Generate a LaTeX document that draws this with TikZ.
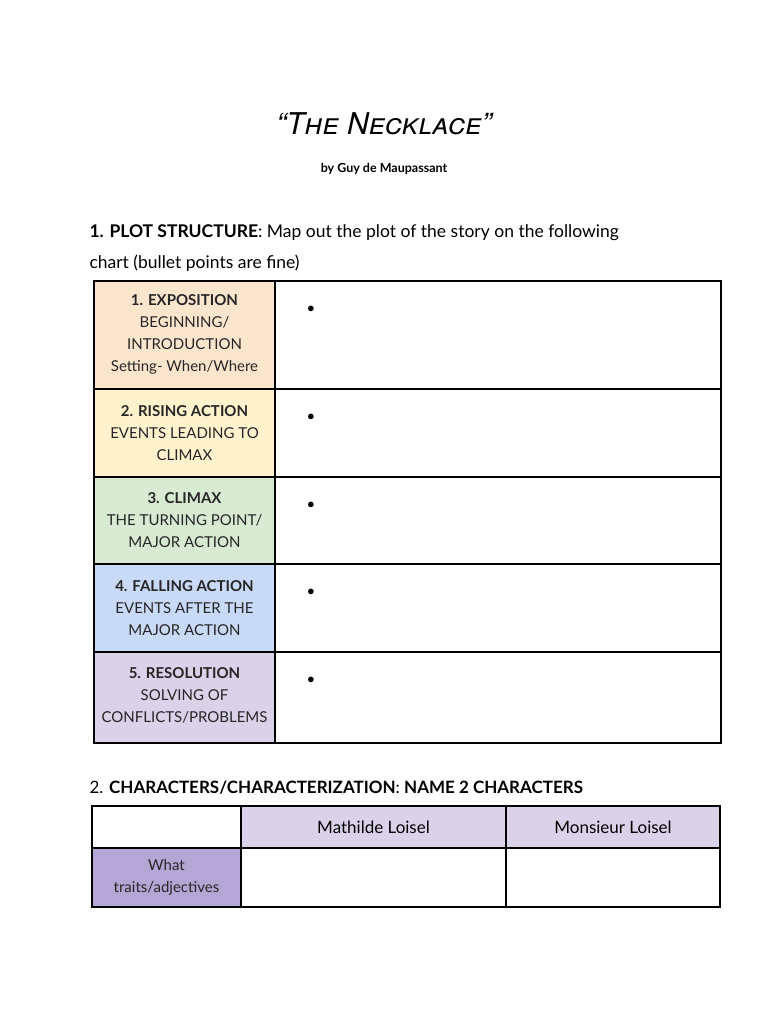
\documentclass[tikz,border=0pt]{standalone}
\usepackage{fontspec}
\setmainfont{Lato}
\newfontfamily\titlefont{TeX Gyre Heros}
\definecolor{cexp}{HTML}{FCE5CD}
\definecolor{crise}{HTML}{FFF2CC}
\definecolor{cclim}{HTML}{D9EAD3}
\definecolor{cfall}{HTML}{C9DAF8}
\definecolor{cres}{HTML}{D9D2E9}
\definecolor{chead}{HTML}{D9D2E9}
\definecolor{cwhat}{HTML}{B4A7D6}
\begin{document}
\begin{tikzpicture}[x=1pt,y=-1pt,
 cell/.style={draw=black,line width=1.3pt},
 lbl/.style={align=center,font=\fontsize{15}{22}\selectfont,text=black!85},
 bul/.style={font=\Large}]
\useasboundingbox[fill=white] (0,0) rectangle (768,1024);
\node (title) at (384,124) {\titlefont\fontsize{30}{34}\selectfont\itshape “T\textsc{he} N\textsc{ecklace}”};
\node (by) at (384,169) {\fontsize{12.5}{15}\selectfont\bfseries by Guy de Maupassant};
\node[anchor=west,align=left,font=\fontsize{17.5}{31}\selectfont] (q1) at (86,248) {\textbf{1. PLOT STRUCTURE}: Map out the plot of the story on the following\\chart (bullet points are fine)};
% table 1
\foreach \ya/\yb/\c [count=\i] in {281/389/cexp,389/477/crise,477/564/cclim,564/652/cfall,652/743/cres}{
 \filldraw[cell,fill=\c] (94,\ya) rectangle (275,\yb);
 \draw[cell] (275,\ya) rectangle (721,\yb);
 \node[bul] (b\i) at (311,\ya+28) {$\bullet$};
}
\node[lbl] (e1) at (184.5,334) {\textbf{1. EXPOSITION}\\BEGINNING/\\INTRODUCTION\\Setting- When/Where};
\node[lbl] (e2) at (184.5,433) {\textbf{2. RISING ACTION}\\EVENTS LEADING TO\\CLIMAX};
\node[lbl] (e3) at (184.5,520) {\textbf{3. CLIMAX}\\THE TURNING POINT/\\MAJOR ACTION};
\node[lbl] (e4) at (184.5,608) {\textbf{4. FALLING ACTION}\\EVENTS AFTER THE\\MAJOR ACTION};
\node[lbl] (e5) at (184.5,695) {\textbf{5. RESOLUTION}\\SOLVING OF\\CONFLICTS/PROBLEMS};
\node[anchor=west,font=\fontsize{17}{20}\selectfont] (q2) at (86,788) {2. \textbf{CHARACTERS/CHARACTERIZATION}: \textbf{NAME 2 CHARACTERS}};
% table 2
\draw[cell] (92,806) rectangle (241,848);
\filldraw[cell,fill=chead] (241,806) rectangle (506,848);
\filldraw[cell,fill=chead] (506,806) rectangle (720,848);
\filldraw[cell,fill=cwhat] (92,848) rectangle (241,907);
\draw[cell] (241,848) rectangle (506,907);
\draw[cell] (506,848) rectangle (720,907);
\node[font=\fontsize{17}{20}\selectfont] (m) at (373.5,827) {Mathilde Loisel};
\node[font=\fontsize{17}{20}\selectfont] (ml) at (613,827) {Monsieur Loisel};
\node[lbl] (w) at (166.5,877) {What\\traits/adjectives};
\end{tikzpicture}
\end{document}
